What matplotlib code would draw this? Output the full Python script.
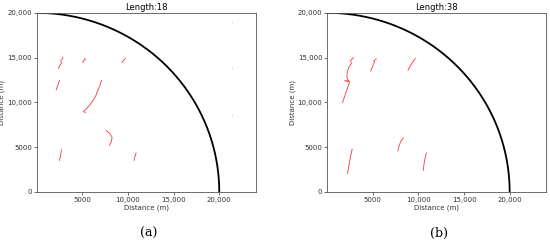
import matplotlib.pyplot as plt
from matplotlib.ticker import FuncFormatter
import numpy as np

RADIUS = 20000

# panel (a): trajectories, each as (x list, y list)
tracks_a = [
    ([2400, 2550, 2700, 2620, 2850, 2850], [13800, 14200, 14400, 14650, 14950, 15050]),
    ([5050, 5100, 5330, 5250], [14450, 14650, 14800, 14900]),
    ([9350, 9500, 9700], [14450, 14700, 14900]),
    ([2120, 2300, 2480], [11400, 11900, 12450]),
    ([5330, 5110, 5480, 5950, 6420, 6720, 6940, 7080],
     [8870, 8980, 9350, 9900, 10650, 11400, 11950, 12450]),
    ([7590, 7960, 8250, 8180, 7960], [6860, 6570, 6120, 5640, 5200]),
    ([2480, 2600, 2700], [3520, 4100, 4700]),
    ([10660, 10750, 10880], [3520, 3950, 4350]),
]
ghost_x_a = [21400, 21400, 21400]
ghost_y_a = [19030, 13800, 8600]

# panel (b)
tracks_b = [
    ([1680, 2450, 1900, 2350, 2150, 2200, 2400, 2650, 2550, 2850],
     [10000, 12300, 12420, 12420, 12800, 13400, 14000, 14350, 14650, 15000]),
    ([4770, 5020, 5200, 5100, 5390], [13500, 14170, 14540, 14650, 14850]),
    ([8850, 9200, 9650], [13600, 14250, 14900]),
    ([2220, 2450, 2730], [2040, 3400, 4790]),
    ([7750, 7900, 8100, 8340], [4600, 5250, 5700, 6050]),
    ([10520, 10650, 10850], [2400, 3400, 4350]),
]

titles = ['Length:18', 'Length:38']
labels = ['(a)', '(b)']

fig = plt.figure(figsize=(5.5, 2.43), dpi=100)
lefts = [0.067, 0.595]

fmt = FuncFormatter(lambda v, p: f'{int(v):,}' if v >= 10000 else f'{int(v)}')

for i, tracks in enumerate([tracks_a, tracks_b]):
    ax = fig.add_axes([lefts[i], 0.21, 0.398, 0.737])
    th = np.linspace(0, np.pi / 2, 300)
    ax.plot(RADIUS * np.cos(th), RADIUS * np.sin(th), color='black', lw=1.3)
    for xs, ys in tracks:
        ax.plot(xs, ys, color='red', lw=0.6, alpha=0.8)
    if i == 0:
        ax.scatter(ghost_x_a, ghost_y_a, s=1, color='#cccccc', lw=0)
    ax.set_xlim(0, 24000)
    ax.set_ylim(0, 20000)
    ax.set_xticks([5000, 10000, 15000, 20000])
    ax.set_yticks([0, 5000, 10000, 15000, 20000])
    ax.xaxis.set_major_formatter(fmt)
    ax.yaxis.set_major_formatter(fmt)
    ax.tick_params(labelsize=5, length=2, width=0.5, pad=1.5, colors='#333333')
    for s in ax.spines.values():
        s.set_linewidth(0.6)
        s.set_color('#555555')
    ax.set_xlabel('Distance (m)', fontsize=5, labelpad=1.5, color='#333333')
    ax.set_ylabel('Distance (m)', fontsize=5, labelpad=1.5, color='#333333')
    ax.set_title(titles[i], fontsize=6, pad=2)
    fig.text(lefts[i] + 0.199 + 0.005, 0.04, labels[i], fontsize=9,
             family='DejaVu Serif', ha='center', va='center')

fig.savefig('out.png', dpi=100)
